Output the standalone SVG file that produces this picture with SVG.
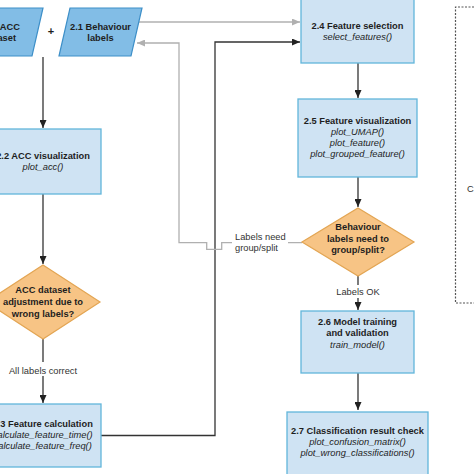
<svg xmlns="http://www.w3.org/2000/svg" width="474" height="474" viewBox="0 0 474 474">
<defs>
<marker id="ab" markerUnits="userSpaceOnUse" markerWidth="8" markerHeight="7" refX="8" refY="3.5" orient="auto"><path d="M0,0 L8,3.5 L0,7 z" fill="#222"/></marker>
<marker id="ag" markerUnits="userSpaceOnUse" markerWidth="8" markerHeight="7" refX="8" refY="3.5" orient="auto"><path d="M0,0 L8,3.5 L0,7 z" fill="#b0b0b0"/></marker>
<style>
text{font-family:"Liberation Sans",Arial,sans-serif;font-size:9.3px;fill:#1e1e1e}
.c{text-anchor:middle}
.b{font-weight:bold}
.i{font-style:italic}
.box{fill:#cfe3f3;stroke:#62b6da;stroke-width:1.3}
.para{fill:#82bde6;stroke:#3d8fc8;stroke-width:1.2}
.dia{fill:#f7c485;stroke:#e3a553;stroke-width:1.2}
.k{fill:none;stroke:#333;stroke-width:1.3}
.g{fill:none;stroke:#b0b0b0;stroke-width:1.3}
.lbl{fill:#333}
</style>
</defs>
<rect width="474" height="474" fill="#fff"/>
<g id="connectors">
<path class="k" d="M43,57 V128" marker-end="url(#ab)"/>
<path class="k" d="M43,194 V264" marker-end="url(#ab)"/>
<path class="k" d="M43,339 V403" marker-end="url(#ab)"/>
<path class="k" d="M101,435.5 H215 V42 H300" marker-end="url(#ab)"/>
<path class="k" d="M358,63 V98" marker-end="url(#ab)"/>
<path class="k" d="M358,177 V207" marker-end="url(#ab)"/>
<path class="k" d="M358,276 V310" marker-end="url(#ab)"/>
<path class="k" d="M358,373 V410" marker-end="url(#ab)"/>
<path class="g" d="M139,22 H300" marker-end="url(#ag)"/>
<path class="g" d="M302,242.7 H221.7 V249.3 H206.7 V242.7 H179 V43 H137" marker-end="url(#ag)"/>
<rect x="3" y="362" width="80" height="14" fill="#fff"/>
<rect x="232" y="230" width="56" height="24" fill="#fff"/>
<rect x="334" y="285" width="48" height="13" fill="#fff"/>
<text class="c lbl" x="43" y="374">All labels correct</text>
<text class="lbl" x="235" y="239.5">Labels need</text>
<text class="lbl" x="235" y="250.5">group/split</text>
<text class="c lbl" x="358" y="295">Labels OK</text>
</g>
<g id="n-acc-dataset">
<polygon class="para" points="-29,8 43,8 32,56 -40,56"/>
<text class="b" x="20" y="29.5" text-anchor="end">ACC</text>
<text class="b" x="16" y="40.5" text-anchor="end">dataset</text>
</g>
<text class="b c" x="51" y="35" style="font-size:11px">+</text>
<g id="n-2-1">
<polygon class="para" points="70,8 142,8 131,56 59,56"/>
<text class="b c" x="100.5" y="29.5">2.1 Behaviour</text>
<text class="b c" x="100.5" y="40.5">labels</text>
</g>
<g id="n-2-2">
<rect class="box" x="-15" y="129" width="116" height="65"/>
<text class="b c" x="43" y="159">2.2 ACC visualization</text>
<text class="i c" x="43" y="170.3">plot_acc()</text>
</g>
<g id="n-d1">
<polygon class="dia" points="43,265 100,302 43,339 -14,302"/>
<text class="b c" x="43" y="292.5">ACC dataset</text>
<text class="b c" x="43" y="304.5">adjustment due to</text>
<text class="b c" x="43" y="316.5">wrong labels?</text>
</g>
<g id="n-2-3">
<rect class="box" x="-15" y="404" width="116" height="63"/>
<text class="b c" x="42.7" y="427.3">2.3 Feature calculation</text>
<text class="i c" x="42.7" y="438.3">calculate_feature_time()</text>
<text class="i c" x="42.7" y="449.3">calculate_feature_freq()</text>
</g>
<g id="n-2-4">
<rect class="box" x="301" y="-1" width="113" height="64"/>
<text class="b c" x="357.5" y="29.3">2.4 Feature selection</text>
<text class="i c" x="357.5" y="40.3">select_features()</text>
</g>
<g id="n-2-5">
<rect class="box" x="298" y="99" width="119" height="78"/>
<text class="b c" x="357.5" y="123.5">2.5 Feature visualization</text>
<text class="i c" x="357.5" y="134.8">plot_UMAP()</text>
<text class="i c" x="357.5" y="145.5">plot_feature()</text>
<text class="i c" x="357.5" y="156.5">plot_grouped_feature()</text>
</g>
<g id="n-d2">
<polygon class="dia" points="358,208 414,242 358,276 302,242"/>
<text class="b c" x="358" y="230.3">Behaviour</text>
<text class="b c" x="358" y="242.3">labels need to</text>
<text class="b c" x="358" y="253.3">group/split?</text>
</g>
<g id="n-2-6">
<rect class="box" x="301" y="311" width="113" height="62"/>
<text class="b c" x="357.5" y="325.3">2.6 Model training</text>
<text class="b c" x="357.5" y="336.3">and validation</text>
<text class="i c" x="357.5" y="348">train_model()</text>
</g>
<g id="n-2-7">
<rect class="box" x="287" y="412" width="141" height="70"/>
<text class="b c" x="357.5" y="434">2.7 Classification result check</text>
<text class="i c" x="357.5" y="445">plot_confusion_matrix()</text>
<text class="i c" x="357.5" y="456">plot_wrong_classifications()</text>
</g>
<g id="n-dashed">
<path d="M474,7 H455.5 V303 H474" fill="none" stroke="#555" stroke-width="1.2" stroke-dasharray="2,1.5"/>
<text x="467" y="192" class="lbl">C</text>
</g>
</svg>
